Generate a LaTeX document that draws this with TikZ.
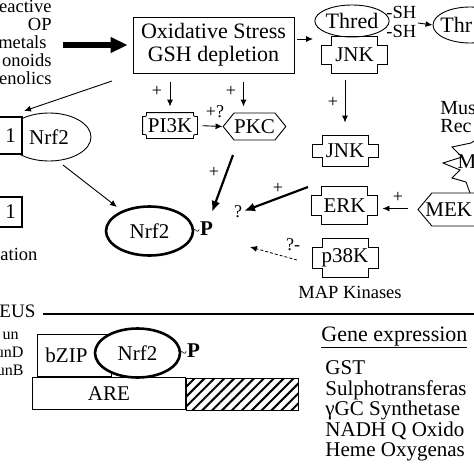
\documentclass[tikz,border=0pt]{standalone}
\usepackage{fontspec}
\setmainfont{Liberation Serif}
\usetikzlibrary{arrows.meta,shapes.geometric,shapes.symbols,patterns.meta}
\newcommand{\setfs}[1]{\fontsize{#1}{#1}\selectfont}
\tikzset{
  lbl/.style={inner sep=0pt,font=\setfs{21}},
  lblsm/.style={inner sep=0pt,font=\setfs{18.5}},
  sgn/.style={inner sep=0pt,font=\setfs{18}},
  arr/.style={line width=0.9pt,-{Latex[length=7pt,width=6pt]}},
  thickarr/.style={line width=2.2pt,-{Latex[length=11pt,width=9pt]}},
  kin/.style={minimum width=65pt,inner sep=0pt,font=\setfs{21}},
  kshape/.style={signal,signal to=west and east,draw,inner sep=0pt,font=\setfs{21}},
  oval/.style={ellipse,draw,inner sep=0pt,font=\setfs{21}},
  bold oval/.style={oval,line width=2.6pt,fill=white},
  keap/.style={draw,line width=2pt,fill=white,
    align=right,text width=30pt,inner xsep=6pt,inner ysep=0pt,font=\setfs{21}}
}
\begin{document}
\begin{tikzpicture}[x=1pt,y=-1pt,line width=0.9pt]
\useasboundingbox (0,0) rectangle (474,474);
\clip (0,0) rectangle (474,474);
% inducers
\node[lblsm,anchor=base east] (ind1) at (52,12) {eactive};
\node[lblsm,anchor=base east] (ind2) at (52,30.5) {OP};
\node[lblsm,anchor=base east] (ind3) at (47,48.5) {metals};
\node[lblsm,anchor=base east] (ind4) at (52,66.5) {onoids};
\node[lblsm,anchor=base east] (ind5) at (52,84.5) {enolics};
\node[draw,minimum width=161pt,minimum height=56pt,align=center,inner sep=0pt,
  font=\fontsize{22}{23}\selectfont] (ox) at (213.5,45) {Oxidative Stress\\GSH depletion};
\coordinate (bigs) at (63,45);
\draw[line width=6pt,-{Triangle[length=17pt,width=15pt]}] (bigs) -- ([xshift=-5pt]ox.west);
% cytoplasm, left
\node[oval,minimum width=84pt,minimum height=48pt] (nrfa) at (49,137) {Nrf2};
\node[keap,minimum height=37pt] (kpa) at (1,135.5) {1};
\draw[line width=0.6pt,white] ([shift={(-2.5pt,2.5pt)}]kpa.south east) rectangle ([shift={(-60pt,-2.5pt)}]kpa.north east);
\node[keap,minimum height=30pt] (kpb) at (1,212) {1};
\draw[line width=0.6pt,white] ([shift={(-2.5pt,2.5pt)}]kpb.south east) rectangle ([shift={(-60pt,-2.5pt)}]kpb.north east);
\node[lblsm,anchor=base west] (deg) at (0,260) {ation};
\coordinate (kps) at (112,81);
\draw[arr] (kps) -- ([shift={(1pt,5pt)}]kpa.north east);
% PI3K and PKC
\node[lbl,minimum width=54pt,minimum height=25pt] (pik) at (170,125.5) {PI3K};
\draw ([xshift=4pt]pik.north west) -- ([xshift=-4pt]pik.north east)
  .. controls ([xshift=-4pt,yshift=-4pt]pik.north east) .. ([yshift=-4pt]pik.north east)
  -- ([yshift=4pt]pik.south east)
  .. controls ([xshift=-4pt,yshift=4pt]pik.south east) .. ([xshift=-4pt]pik.south east)
  -- ([xshift=4pt]pik.south west)
  .. controls ([xshift=4pt,yshift=4pt]pik.south west) .. ([yshift=4pt]pik.south west)
  -- ([yshift=-4pt]pik.north west)
  .. controls ([xshift=4pt,yshift=-4pt]pik.north west) .. ([xshift=4pt]pik.north west) -- cycle;
\node[kshape,signal pointer angle=102,minimum width=61pt,minimum height=27pt] (pkc) at (254.5,126.5) {PKC};
\coordinate (pkcin) at ([xshift=-11pt]pkc.north);
\draw[arr,shorten <=9pt,shorten >=6pt] (ox.south -| pik.north) -- (pik.north);
\draw[arr,shorten <=9pt,shorten >=6pt] (ox.south -| pkcin) -- (pkcin);
\node[sgn] (pl1) at (157,91) {+};
\node[sgn] (pl2) at (231,91) {+};
\draw[arr,shorten <=5pt] (pik.east) -- (pkc.west);
\node[sgn] (pl3) at (215,112) {+?};
% Nrf2 phosphorylation
\node[bold oval,minimum width=87pt,minimum height=49pt] (nrfb) at (149.5,231) {Nrf2};
\node[lbl,anchor=west] (pa) at (192,229) {{\setfs{14}\textasciitilde}\textbf{P}};
\coordinate (nrfs) at (63,165);
\coordinate (nrft) at (117,207);
\draw[arr] (nrfs) -- (nrft);
\coordinate (pkcs) at (233,155);
\coordinate (pkct) at (212,212);
\draw[thickarr] (pkcs) -- (pkct);
\node[sgn] (pl4) at (214,172) {+};
% Thred / JNK complex
\node[kin,minimum height=36pt] (jnka) at (354.5,55) {JNK};
\node[oval,minimum width=69pt,minimum height=32pt,font=\setfs{22}] (thred) at (352,21) {Thred};
\node[lblsm,anchor=west] (sha) at (386,12.5) {-SH};
\node[lblsm,anchor=west] (shb) at (386,31) {-SH};
\node[oval,minimum width=74pt,minimum height=36pt] (thrb) at (470,25) {};
\node[lbl,anchor=west,font=\setfs{22}] (thrtxt) at (440,25) {Thr};
\coordinate (oxs) at (297,39);
\coordinate (oxt) at (313,39);
\draw[arr] (oxs) -- (oxt);
\coordinate (shs) at (418,23);
\draw[arr] (shs) -- (thrb.west);
% MAP kinases
\node[kin,minimum height=30pt] (jnkb) at (345,151) {JNK};
\node[kin,minimum height=37pt] (erk) at (344.5,205.5) {ERK};
\node[kin,minimum height=38pt] (ptk) at (345,258) {p38K};
\foreach \n in {jnka,jnkb,erk,ptk}
  \draw ([xshift=10pt]\n.north west) -- ([xshift=-10pt]\n.north east)
    -- ([xshift=-10pt,yshift=-9pt]\n.north east) -- ([yshift=-9pt]\n.north east)
    -- ([yshift=9pt]\n.south east) -- ([xshift=-10pt,yshift=9pt]\n.south east)
    -- ([xshift=-10pt]\n.south east) -- ([xshift=10pt]\n.south west)
    -- ([xshift=10pt,yshift=9pt]\n.south west) -- ([yshift=9pt]\n.south west)
    -- ([yshift=-9pt]\n.north west) -- ([xshift=10pt,yshift=-9pt]\n.north west) -- cycle;
\node[lblsm,anchor=base] (mapk) at (350,298) {MAP Kinases};
\draw[arr,shorten <=7pt,shorten >=13pt] (jnkb.north |- jnka.south) -- (jnkb.north);
\node[sgn] (pl5) at (333,102) {+};
\coordinate (erks) at (308,187);
\coordinate (erkt) at (244,211);
\draw[thickarr] (erks) -- (erkt);
\node[sgn] (pl6) at (278,188) {+};
\node[sgn] (qm1) at (238,212) {?};
\coordinate (pts) at (297,260);
\coordinate (ptt) at (250,247);
\draw[arr,dash pattern=on 3pt off 2pt,line width=0.8pt] (pts) -- (ptt);
\node[sgn] (qm2) at (293,245) {?-};
% receptor and MEK
\node[lbl,anchor=base west,font=\setfs{20}] (mus) at (440,114) {Mus};
\node[lbl,anchor=base west,font=\setfs{20}] (rec) at (440,132) {Rec};
\draw (474,141) -- (471,143) -- (452,147) -- (462,157) -- (443,163) -- (460,170)
  -- (452,178) -- (466,182) -- (470,193);
\node[lbl] (mrec) at (467,162) {M};
\node[kshape,signal pointer angle=100,minimum width=100pt,minimum height=33pt] (mek) at (468,209.5) {};
\node[lbl,anchor=west] (mektxt) at (425,209.5) {MEK};
\coordinate (meks) at (408,208.5);
\draw[arr] (meks) -- ([xshift=5pt,yshift=-3pt]erk.east);
\node[sgn] (pl7) at (398,197) {+};
% nucleus
\node[lbl,anchor=base west,font=\setfs{19}] (nuc) at (-1,317) {EUS};
\draw[line width=1.4pt] (43,314) -- (474,314);
\node[sgn,anchor=base east,font=\setfs{16}] (jun1) at (19,339) {un};
\node[sgn,anchor=base east,font=\setfs{16}] (jun2) at (24,357) {unD};
\node[sgn,anchor=base east,font=\setfs{16}] (jun3) at (24,375) {unB};
\node[draw,fill=white,lbl,minimum height=42pt,text width=58pt,inner xsep=8pt,
  align=left,anchor=south west] (bz) at (37,377) {bZIP};
\node[draw,lbl,minimum width=153pt,minimum height=32pt,anchor=north west] (are) at (32,377) {ARE};
\node[draw,pattern={Lines[angle=45,distance=7pt,line width=2pt]},minimum width=112pt,
  minimum height=32pt,inner sep=0pt,anchor=north west] (hat) at (185,377) {};
\node[bold oval,minimum width=85pt,minimum height=49pt] (nrfc) at (137.5,353) {Nrf2};
\node[lbl,anchor=west] (pb) at (179,351) {{\setfs{14}\textasciitilde}\textbf{P}};
% genes
\node[lbl,anchor=base west,font=\setfs{22}] (gex) at (321,341.5) {\underline{Gene expression}};
\node[lbl,anchor=base west] (g1) at (325,374.5) {GST};
\node[lbl,anchor=base west] (g2) at (325,395) {Sulphotransferas};
\node[lbl,anchor=base west] (g3) at (325,415.5) {γGC Synthetase};
\node[lbl,anchor=base west] (g4) at (325,436) {NADH Q Oxido};
\node[lbl,anchor=base west] (g5) at (325,456.5) {Heme Oxygenas};
\end{tikzpicture}
\end{document}
